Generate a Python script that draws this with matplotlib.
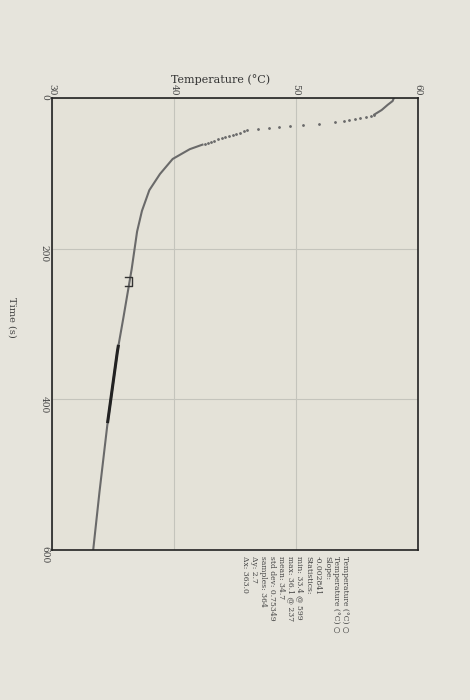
import matplotlib.pyplot as plt
import numpy as np

# curve (time in s, temperature in degC)
time_s = [0, 4, 9, 16, 23, 32, 36, 43, 57, 68, 81, 100, 122, 149, 176, 222, 280, 334, 428, 510, 600]
temp_c = [58.0, 57.9, 57.5, 57.0, 56.3, 53.6, 50.1, 46.0, 43.2, 41.3, 39.9, 38.9, 38.0, 37.4, 37.0, 36.6, 36.0, 35.4, 34.6, 34.0, 33.4]
dotted_from, dotted_to = 22, 62
sel_from, sel_to = 330, 430

temp_ticks = [30, 40, 50, 60]
time_ticks = [0, 200, 400, 600]
stats = ["Temperature (°C) ○", "Temperature (°C) ○", "Slope:", "-0.002841", "Statistics:",
         "min: 33.4 @ 599", "max: 36.1 @ 237", "mean: 34.7", "std dev: 0.75349",
         "samples: 364", "Δy: 2.7", "Δx: 363.0"]

fig = plt.figure(figsize=(4.7, 7.0), dpi=100)
fig.patch.set_facecolor("#e6e4dc")
ax = fig.add_axes([0.11, 0.215, 0.78, 0.645])
ax.set_facecolor("#e4e2d8")

t = np.array(time_s, float); y = np.array(temp_c, float)
tt = np.linspace(0, 600, 1201)
yy = np.interp(tt, t, y)
solid1 = tt <= dotted_from
dots = (tt >= dotted_from) & (tt <= dotted_to)
solid2 = tt >= dotted_to
ax.plot(yy[solid1], tt[solid1], color="#6a6a6a", lw=1.5)
ax.plot(yy[dots][::3], tt[dots][::3], ".", color="#6a6a6a", ms=2)
ax.plot(yy[solid2], tt[solid2], color="#6a6a6a", lw=1.5)
sel = (tt >= sel_from) & (tt <= sel_to)
ax.plot(yy[sel], tt[sel], color="#222222", lw=2.2)
ax.plot([36.0, 36.6, 36.6, 36.0], [238, 238, 250, 250], color="#333333", lw=1)

ax.set_xlim(30, 60); ax.set_ylim(600, 0)
ax.set_xticks(temp_ticks); ax.set_yticks(time_ticks)
ax.xaxis.tick_top()
ax.set_xticklabels([str(v) for v in temp_ticks], rotation=270, fontsize=6.5, family="DejaVu Serif", color="#444")
ax.set_yticklabels([str(v) for v in time_ticks], rotation=270, fontsize=6.5, family="DejaVu Serif", color="#444")
ax.tick_params(length=0, pad=2)
ax.grid(color="#c4c4bc", lw=0.8)
for s in ax.spines.values():
    s.set_color("#222"); s.set_linewidth(1.2)

fig.text(0.47, 0.882, "Temperature (°C)", fontsize=8, family="DejaVu Serif", color="#333", ha="center")
fig.text(0.025, 0.546, "Time (s)", rotation=270, fontsize=7, family="DejaVu Serif", color="#444",
         va="center", ha="center")
for i, line in enumerate(stats):
    fig.text(0.735 - i * 0.0195, 0.205, line, rotation=270, fontsize=5.5,
             family="DejaVu Serif", color="#444", va="top", ha="center")
fig.savefig("out.png", facecolor=fig.get_facecolor())
